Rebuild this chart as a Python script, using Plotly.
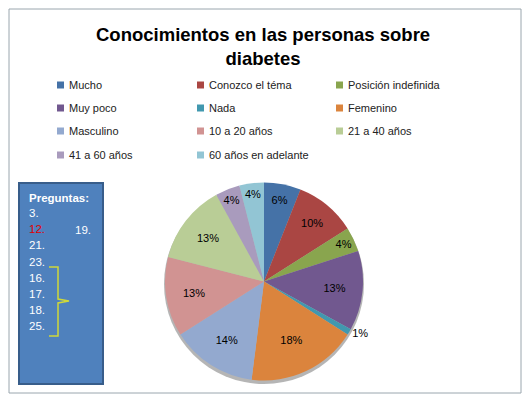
import plotly.graph_objects as go

# la pagina deja 8px de margen, asi que el grafico ocupa 514x386 desde (8,8)
OFF = 8
W, H = 514, 386

# datos
categorias = ["Mucho", "Conozco el téma", "Posición indefinida", "Muy poco", "Nada",
              "Femenino", "Masculino", "10 a 20 años", "21 a 40 años", "41 a 60 años",
              "60 años en adelante"]
porcentajes = [6, 10, 4, 13, 1, 18, 14, 13, 13, 4, 4]
colores = ["#4572A7", "#AA4643", "#89A54E", "#71588F", "#4198AF", "#DB843D",
           "#93A9CF", "#D19392", "#B9CD96", "#A99BBD", "#92C5D4"]
preguntas = ["3.", "12.", "21.", "23.", "16.", "17.", "18.", "25."]

FONT = "Liberation Sans"


def px(x):
    return (x - OFF) / W


def py(y):
    return 1 - (y - OFF) / H


fig = go.Figure()

posiciones = ["outside" if v < 2 else "inside" for v in porcentajes]
fig.add_trace(go.Pie(
    labels=categorias,
    values=porcentajes,
    sort=False,
    direction="clockwise",
    rotation=0,
    marker=dict(colors=colores, line=dict(width=0)),
    texttemplate="%{percent:.0%}",
    textposition=posiciones,
    insidetextorientation="horizontal",
    textfont=dict(family=FONT, size=11, color="black"),
    domain=dict(x=[px(165), px(363)], y=[py(381), py(182)]),
    showlegend=False,
    hoverinfo="label+percent",
))

shapes = []
# borde del area del grafico
shapes.append(dict(type="rect", xref="paper", yref="paper", x0=px(9), x1=px(521), y0=py(393), y1=py(9),
                   fillcolor="white", line=dict(color="#9AA6AE", width=1), layer="below"))
# sombra del pastel
shapes.append(dict(type="circle", xref="paper", yref="paper", x0=px(164), x1=px(364), y0=py(384), y1=py(184),
                   fillcolor="rgba(90,90,90,0.45)", line=dict(width=0), layer="below"))
# cuadro de preguntas
shapes.append(dict(type="rect", xref="paper", yref="paper", x0=px(19), x1=px(103), y0=py(384), y1=py(183),
                   fillcolor="#4F81BD", line=dict(color="#385D8A", width=2)))
# llave amarilla
llave = "M {} {} L {} {} L {} {} L {} {} L {} {} L {} {} L {} {}".format(
    px(49), py(267), px(58), py(267), px(58), py(299), px(69), py(301),
    px(58), py(303), px(58), py(336), px(49), py(336))
shapes.append(dict(type="path", xref="paper", yref="paper", path=llave,
                   line=dict(color="#CFD83A", width=1.5)))

annotations = []
annotations.append(dict(text="<b>Conocimientos en las personas sobre<br>diabetes</b>", x=px(263), y=py(46),
                        xref="paper", yref="paper", showarrow=False, xanchor="center", yanchor="middle",
                        font=dict(family=FONT, size=18.5, color="black")))

# leyenda manual en tres columnas
col_x = [57, 197, 336]
fila_y = [85, 108, 131, 155]
for i, (cat, col) in enumerate(zip(categorias, colores)):
    cx = col_x[i % 3]
    cy = fila_y[i // 3]
    shapes.append(dict(type="rect", xref="paper", yref="paper", x0=px(cx), x1=px(cx + 7),
                       y0=py(cy + 3.5), y1=py(cy - 3.5), fillcolor=col, line=dict(width=0)))
    annotations.append(dict(text=cat, x=px(cx + 10), y=py(cy), xref="paper", yref="paper",
                            showarrow=False, xanchor="left", yanchor="middle",
                            font=dict(family=FONT, size=11, color="#222")))

annotations.append(dict(text="<b>Preguntas:</b>", x=px(27), y=py(198), xref="paper", yref="paper",
                        showarrow=False, xanchor="left", yanchor="middle",
                        font=dict(family=FONT, size=11.5, color="white")))
for j, p in enumerate(preguntas):
    color = "#E00000" if p == "12." else "white"
    annotations.append(dict(text=p, x=px(27), y=py(213 + j * 16.2), xref="paper", yref="paper",
                            showarrow=False, xanchor="left", yanchor="middle",
                            font=dict(family=FONT, size=11.5, color=color)))
annotations.append(dict(text="19.", x=px(73), y=py(230), xref="paper", yref="paper",
                        showarrow=False, xanchor="left", yanchor="middle",
                        font=dict(family=FONT, size=11.5, color="white")))

fig.update_layout(
    width=W, height=H,
    margin=dict(l=0, r=0, t=0, b=0),
    paper_bgcolor="white",
    plot_bgcolor="white",
    shapes=shapes,
    annotations=annotations,
    showlegend=False,
)

fig.write_html("out.html")
